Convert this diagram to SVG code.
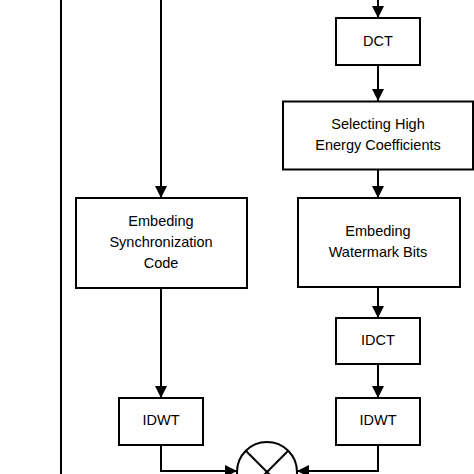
<svg xmlns="http://www.w3.org/2000/svg" width="474" height="474" viewBox="0 0 474 474">
<defs>
<marker id="arr" markerUnits="userSpaceOnUse" markerWidth="12" markerHeight="12" viewBox="0 0 12 12" refX="12" refY="6" orient="auto">
<path d="M0,0 L12,6 L0,12 Z" fill="#000"/>
</marker>
</defs>
<style>
rect{fill:#fff;stroke:#000;stroke-width:2}
text{font-family:"Liberation Sans",Arial,sans-serif;font-size:14.5px;fill:#000;text-anchor:middle}
.c{fill:none;stroke:#000;stroke-width:2}
</style>
<rect x="0" y="0" width="474" height="474" style="stroke:none"/>
<g id="connectors">
<line class="c" x1="61" y1="0" x2="61" y2="474"/>
<line class="c" x1="161" y1="0" x2="161" y2="198" marker-end="url(#arr)"/>
<line class="c" x1="378" y1="0" x2="378" y2="18" marker-end="url(#arr)"/>
<line class="c" x1="378" y1="65" x2="378" y2="101" marker-end="url(#arr)"/>
<line class="c" x1="378" y1="169" x2="378" y2="198" marker-end="url(#arr)"/>
<line class="c" x1="378" y1="287" x2="378" y2="318" marker-end="url(#arr)"/>
<line class="c" x1="378" y1="364" x2="378" y2="398" marker-end="url(#arr)"/>
<line class="c" x1="161" y1="288" x2="161" y2="398" marker-end="url(#arr)"/>
<polyline class="c" points="161,445 161,471 237,471" marker-end="url(#arr)"/>
<polyline class="c" points="378,445 378,471 297,471" marker-end="url(#arr)"/>
</g>
<g id="dct"><rect x="336" y="18" width="84" height="47"/><text x="378" y="46">DCT</text></g>
<g id="select"><rect x="283" y="101.5" width="190" height="68"/><text x="378" y="129">Selecting High</text><text x="378" y="150">Energy Coefficients</text></g>
<g id="embed-wm"><rect x="298" y="198" width="162" height="89"/><text x="378" y="236">Embeding</text><text x="378" y="256.5">Watermark Bits</text></g>
<g id="idct"><rect x="336" y="318" width="84" height="46"/><text x="378" y="344.5">IDCT</text></g>
<g id="idwt-r"><rect x="336" y="398" width="84" height="47"/><text x="378" y="424.5">IDWT</text></g>
<g id="embed-sync"><rect x="76" y="198" width="171" height="90"/><text x="161" y="226">Embeding</text><text x="161" y="247">Synchronization</text><text x="161" y="268">Code</text></g>
<g id="idwt-l"><rect x="119" y="398" width="84" height="47"/><text x="161" y="424.5">IDWT</text></g>
<g id="xor">
<circle cx="267" cy="472" r="30" fill="#fff" stroke="#000" stroke-width="2"/>
<line class="c" x1="245.8" y1="450.8" x2="288.2" y2="493.2"/>
<line class="c" x1="288.2" y1="450.8" x2="245.8" y2="493.2"/>
</g>
</svg>
